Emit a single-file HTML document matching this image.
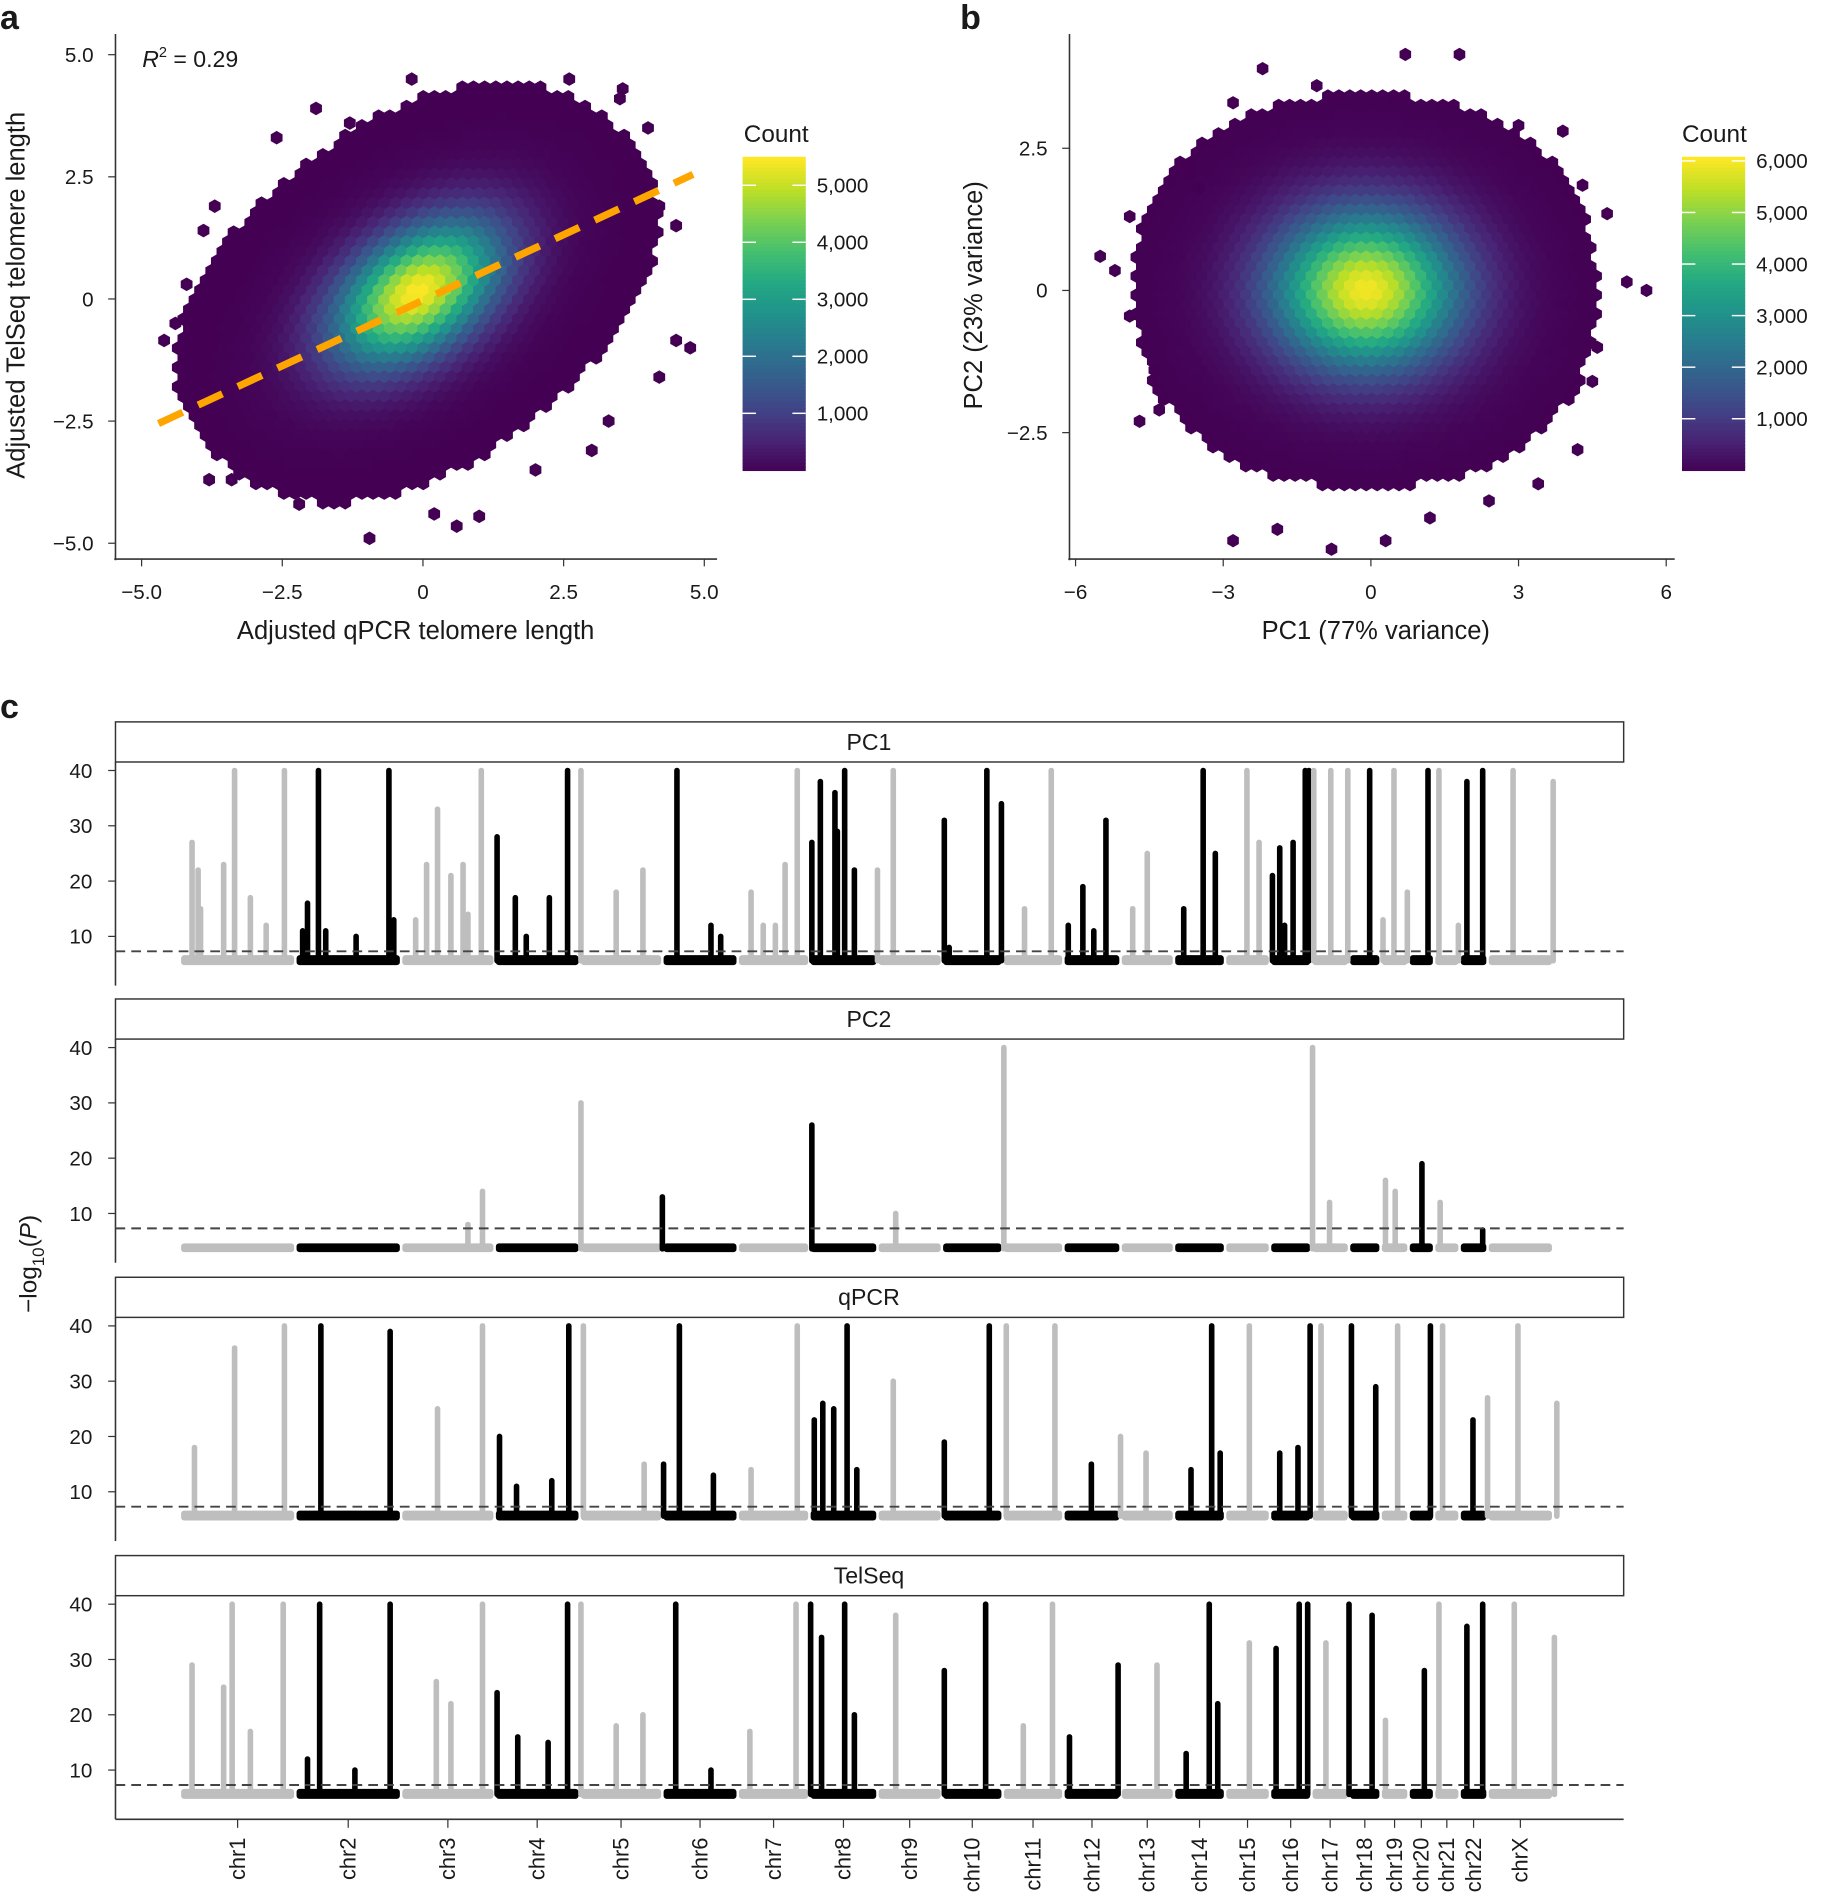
<!DOCTYPE html>
<html><head><meta charset="utf-8"><style>
html,body{margin:0;padding:0;background:#fff}
svg{display:block}
text{font-family:"Liberation Sans",sans-serif;fill:#1a1a1a}
</style></head><body>
<svg id="fig" width="1823" height="1904" viewBox="0 0 1500 1566.7" xmlns="http://www.w3.org/2000/svg">
<g id="pa"></g>
<g id="pb"></g>
<g id="pc"></g>
</svg>
<script>
// ---------- DATA ----------
const viridisStops=["#440154","#482475","#414487","#355f8d","#2a788e","#21918c","#22a884","#44bf70","#7ad151","#bddf26","#fde725"];
// panel a hexbin model (data units)
const aCenter=[-0.1,0.12];
const aSpread=[1.2,0.75];
const aExtent=[4.9,3.3];
const aPeak=5500;
const aOutliers=[[-4.6,-0.85],[-4.4,-0.5],[-4.2,0.3],[-3.5,0.55],[-3.9,1.4],[-3.7,1.9],[-2.6,3.3],[-1.9,3.9],[-1.3,3.6],[-0.2,4.5],[0.7,4.3],[1.5,4.2],[2.6,4.5],[3.55,4.3],[3.5,4.1],[4.0,3.5],[4.2,1.9],[4.5,1.5],[4.75,-1.0],[4.5,-0.85],[4.2,-1.6],[3.3,-2.5],[3.0,-3.1],[2.0,-3.5],[0.2,-4.4],[0.6,-4.65],[-0.95,-4.9],[-3.8,-3.7],[-3.4,-3.7],[-2.2,-4.2],[1.0,-4.45],[-4.0,-2.0]];
const aFit=[-4.7,-2.55,4.8,2.55];
const aXTicks=[-5,-2.5,0,2.5,5];
const aXLabels=["−5.0","−2.5","0","2.5","5.0"];
const aYTicks=[5,2.5,0,-2.5,-5];
const aYLabels=["5.0","2.5","0","−2.5","−5.0"];
const aBarTicks=[1000,2000,3000,4000,5000];
const aBarLabels=["1,000","2,000","3,000","4,000","5,000"];
// panel b hexbin model
const bCenter=[-0.1,0.0];
const bSpread=[1.3,0.95];
const bExtent=[4.7,3.45];
const bPeak=5900;
const bOutliers=[[-5.5,0.6],[-5.2,0.35],[-4.9,1.3],[-4.9,-0.45],[-3.7,2.05],[-3.5,1.8],[-2.8,3.3],[-2.2,3.9],[-1.1,3.6],[0.7,4.15],[1.8,4.15],[3.0,2.9],[3.9,2.8],[4.3,1.85],[4.8,1.35],[5.2,0.15],[5.6,0.0],[4.5,-1.6],[4.2,-2.8],[3.4,-3.4],[2.4,-3.7],[1.2,-4.0],[0.3,-4.4],[-0.8,-4.55],[-1.9,-4.2],[-2.8,-4.4],[-4.7,-2.3],[-4.3,-2.1],[-4.4,-1.4],[4.6,-1.0]];
const bXTicks=[-6,-3,0,3,6];
const bXLabels=["−6","−3","0","3","6"];
const bYTicks=[2.5,0,-2.5];
const bYLabels=["2.5","0","−2.5"];
const bBarTicks=[1000,2000,3000,4000,5000,6000];
const bBarLabels=["1,000","2,000","3,000","4,000","5,000","6,000"];
// panel c manhattan
const chrNames=["chr1","chr2","chr3","chr4","chr5","chr6","chr7","chr8","chr9","chr10","chr11","chr12","chr13","chr14","chr15","chr16","chr17","chr18","chr19","chr20","chr21","chr22","chrX"];
const chrLen=[95,87,77,70,68,62,59,56,53,50,50,47,44,42,37,34,31,26,23,21,21,23,54];
const cYTicks=[10,20,30,40];
const threshold=7.3;
const panelNames=["PC1","PC2","qPCR","TelSeq"];
const baseLow=[4.8,3.0,4.8,4.8];
const baseHigh=[6.6,4.6,6.6,6.6];
const pc1Peaks=[[10,27],[15,22],[17,15],[36,23],[45,40],[58,17],[71,12],[86,40],[101,11],[105,16],[114,40],[120,11],[145,10],[172,40],[176,13],[194,13],[203,23],[212,33],[223,21],[233,23],[237,14],[248,40],[261,28],[276,17],[285,10],[304,17],[319,40],[330,40],[359,18],[381,22],[409,40],[437,12],[445,10],[470,18],[480,12],[490,12],[498,23],[508,40],[520,27],[527,38],[539,36],[541,29],[547,40],[555,22],[574,22],[587,40],[629,31],[633,8],[664,40],[676,34],[695,15],[717,40],[731,12],[743,19],[752,11],[762,31],[784,15],[796,25],[826,15],[842,40],[852,25],[878,40],[888,27],[899,21],[905,26],[909,12],[916,27],[926,40],[929,40],[933,40],[947,40],[961,40],[979,40],[990,13],[999,40],[1010,18],[1027,40],[1036,40],[1052,12],[1059,38],[1072,40],[1097,40],[1130,38]];
const pc2Peaks=[[237,8],[249,14],[330,30],[397,13],[520,26],[589,10],[678,40],[932,40],[946,12],[992,16],[1000,14],[1022,19],[1037,12],[1072,7]];
const qpcrPeaks=[[12,18],[45,36],[86,40],[116,40],[173,39],[212,25],[249,40],[263,20],[277,11],[306,12],[320,40],[332,40],[382,15],[398,15],[411,40],[439,13],[470,14],[508,40],[522,23],[529,26],[538,25],[549,40],[557,14],[587,30],[629,19],[666,40],[680,40],[720,40],[750,15],[774,20],[795,17],[832,14],[849,40],[856,17],[880,40],[905,17],[920,18],[930,40],[939,40],[964,40],[984,29],[1002,40],[1029,40],[1039,40],[1064,23],[1076,27],[1101,40],[1133,26]];
const telPeaks=[[10,29],[36,25],[43,40],[58,17],[85,40],[105,12],[115,40],[144,10],[173,40],[211,26],[223,22],[249,40],[261,24],[278,16],[303,15],[319,40],[330,40],[359,18],[381,20],[408,40],[437,10],[469,17],[507,40],[519,40],[528,34],[547,40],[555,20],[589,38],[629,28],[663,40],[694,18],[718,40],[732,16],[772,29],[804,29],[828,13],[847,40],[854,22],[880,33],[902,32],[921,40],[928,40],[943,33],[962,40],[981,38],[992,19],[1024,28],[1036,40],[1059,36],[1072,40],[1098,40],[1131,34]];
const allPeaks=[pc1Peaks,pc2Peaks,qpcrPeaks,telPeaks];

// ---------- helpers ----------
const NS="http://www.w3.org/2000/svg";
function mk(parent,tag,attrs,txt){const e=document.createElementNS(NS,tag);for(const k in attrs)e.setAttribute(k,attrs[k]);if(txt!==undefined)e.textContent=txt;parent.appendChild(e);return e;}
function hex2rgb(h){return[parseInt(h.slice(1,3),16),parseInt(h.slice(3,5),16),parseInt(h.slice(5,7),16)];}
function viridis(t){t=Math.max(0,Math.min(1,t));const n=viridisStops.length-1;const i=Math.min(n-1,Math.floor(t*n));const f=t*n-i;const a=hex2rgb(viridisStops[i]),b=hex2rgb(viridisStops[i+1]);return "rgb("+a.map((v,k)=>Math.round(v+(b[k]-v)*f)).join(",")+")";}
function hexPath(cx,cy,r){let d="";for(let k=0;k<6;k++){const ang=Math.PI/180*(60*k-90);d+=(k?"L":"M")+(cx+r*Math.cos(ang)).toFixed(2)+","+(cy+r*Math.sin(ang)).toFixed(2);}return d+"Z";}

// ---------- panel a ----------
(function(){
const g=document.getElementById('pa');
const xs=v=>348+v*46.3, ys=v=>246-v*40.2;
mk(g,'text',{x:0,y:24,'font-size':28,'font-weight':'bold',},'a');
const hexG=mk(g,'g',{});
const r=5.3,w=Math.sqrt(3)*r,dy=1.5*r;
const c=Math.SQRT1_2;
for(let row=0;row<70;row++){const py=40+row*dy;for(let col=0;col<60;col++){const px=105+col*w+(row%2?w/2:0);
 const x=(px-348)/46.3,y=(246-py)/40.2;const dx=x-aCenter[0],dyy=y-aCenter[1];
 const u=(dx+dyy)*c,v=(dyy-dx)*c;
 const bnd=Math.pow(Math.abs(u)/aExtent[0],2.2)+Math.pow(Math.abs(v)/aExtent[1],2.2);
 if(bnd>1)continue;
 const q=(u/aSpread[0])**2+(v/aSpread[1])**2;const cnt=aPeak*Math.exp(-q/2);
 mk(hexG,'path',{d:hexPath(px,py,r+0.35),fill:viridis(cnt/5500)});}}
aOutliers.forEach(p=>{const o=mk(hexG,'path',{d:hexPath(xs(p[0]),ys(p[1]),r+0.3),fill:viridis(0)});

});
mk(g,'line',{x1:xs(aFit[0]),y1:ys(aFit[1]),x2:xs(aFit[2]),y2:ys(aFit[3]),stroke:'#ffa500','stroke-width':6,'stroke-dasharray':'22 14',});
mk(g,'line',{x1:95,y1:28,x2:95,y2:461,stroke:'#333','stroke-width':1.3,});
mk(g,'line',{x1:94,y1:460,x2:590,y2:460,stroke:'#333','stroke-width':1.3,});
aXTicks.forEach((t,i)=>{mk(g,'line',{x1:xs(t),y1:460,x2:xs(t),y2:466,stroke:'#333'});const e=mk(g,'text',{x:xs(t),y:493,'font-size':17,'text-anchor':'middle'},aXLabels[i]);

});
aYTicks.forEach((t,i)=>{mk(g,'line',{x1:89,y1:ys(t),x2:95,y2:ys(t),stroke:'#333'});const e=mk(g,'text',{x:77,y:ys(t)+6,'font-size':17,'text-anchor':'end'},aYLabels[i]);

});
mk(g,'text',{x:342,y:526,'font-size':21,'text-anchor':'middle',},'Adjusted qPCR telomere length');
mk(g,'text',{x:20,y:243,'font-size':21,'text-anchor':'middle',transform:'rotate(-90 20 243)',},'Adjusted TelSeq telomere length');
const r2=mk(g,'text',{x:117,y:55,'font-size':19,});
mk(r2,'tspan',{'font-style':'italic'},'R');mk(r2,'tspan',{dy:-8,'font-size':12},'2');mk(r2,'tspan',{dy:8},' = 0.29');
mk(g,'text',{x:612,y:117,'font-size':20,},'Count');
const cb=mk(g,'g',{});
const top=129,bot=387,maxV=5500;
for(let i=0;i<86;i++){const y0=top+(bot-top)*i/86;mk(cb,'rect',{x:611,y:y0,width:52,height:(bot-top)/86+0.6,fill:viridis(1-i/86)});}
aBarTicks.forEach((t,i)=>{const y=bot-(bot-top)*t/maxV;mk(cb,'line',{x1:611,y1:y,x2:622,y2:y,stroke:'#fff','stroke-width':1.2});mk(cb,'line',{x1:652,y1:y,x2:663,y2:y,stroke:'#fff','stroke-width':1.2});const e=mk(g,'text',{x:672,y:y+6,'font-size':17},aBarLabels[i]);

});
})();

// ---------- panel b ----------
(function(){
const g=document.getElementById('pb');
const xs=v=>1128+v*40.5, ys=v=>239-v*46.8;
mk(g,'text',{x:790,y:24,'font-size':28,'font-weight':'bold',},'b');
const hexG=mk(g,'g',{});
const r=5.2,w=Math.sqrt(3)*r,dy=1.5*r;
for(let row=0;row<70;row++){const py=40+row*dy;for(let col=0;col<62;col++){const px=890+col*w+(row%2?w/2:0);
 const x=(px-1128)/40.5,y=(239-py)/46.8;const dx=x-bCenter[0],dyy=y-bCenter[1];
 const ay=Math.abs(dyy)/bExtent[1],ax=Math.abs(dx)/bExtent[0];
 if(ay>1||Math.pow(ax,2.3)+Math.pow(ay,2.3)>1)continue;
 const q=(dx/bSpread[0])**2+(dyy/bSpread[1])**2;const cnt=bPeak*Math.exp(-q/2);
 mk(hexG,'path',{d:hexPath(px,py,r+0.35),fill:viridis(cnt/6000)});}}
bOutliers.forEach(p=>{const o=mk(hexG,'path',{d:hexPath(xs(p[0]),ys(p[1]),r+0.3),fill:viridis(0)});

});
mk(g,'line',{x1:880,y1:28,x2:880,y2:461,stroke:'#333','stroke-width':1.3,});
mk(g,'line',{x1:879,y1:460,x2:1378,y2:460,stroke:'#333','stroke-width':1.3,});
bXTicks.forEach((t,i)=>{mk(g,'line',{x1:xs(t),y1:460,x2:xs(t),y2:466,stroke:'#333'});const e=mk(g,'text',{x:xs(t),y:493,'font-size':17,'text-anchor':'middle'},bXLabels[i]);

});
bYTicks.forEach((t,i)=>{mk(g,'line',{x1:874,y1:ys(t),x2:880,y2:ys(t),stroke:'#333'});const e=mk(g,'text',{x:862,y:ys(t)+6,'font-size':17,'text-anchor':'end'},bYLabels[i]);

});
mk(g,'text',{x:1132,y:526,'font-size':21,'text-anchor':'middle',},'PC1 (77% variance)');
mk(g,'text',{x:808,y:243,'font-size':21,'text-anchor':'middle',transform:'rotate(-90 808 243)',},'PC2 (23% variance)');
mk(g,'text',{x:1384,y:117,'font-size':20,},'Count');
const cb=mk(g,'g',{});
const top=129,bot=387,maxV=6080;
for(let i=0;i<86;i++){const y0=top+(bot-top)*i/86;mk(cb,'rect',{x:1384,y:y0,width:52,height:(bot-top)/86+0.6,fill:viridis(1-i/86)});}
bBarTicks.forEach((t,i)=>{const y=bot-(bot-top)*t/maxV;mk(cb,'line',{x1:1384,y1:y,x2:1395,y2:y,stroke:'#fff','stroke-width':1.2});mk(cb,'line',{x1:1425,y1:y,x2:1436,y2:y,stroke:'#fff','stroke-width':1.2});const e=mk(g,'text',{x:1445,y:y+6,'font-size':17},bBarLabels[i]);

});
})();

// ---------- panel c ----------
(function(){
const g=document.getElementById('pc');
mk(g,'text',{x:0,y:591,'font-size':28,'font-weight':'bold',},'c');
const X0=148; const xs=u=>X0+u;
const starts=[];let acc=0;chrLen.forEach(l=>{starts.push(acc);acc+=l;});
const chrOf=u=>{for(let i=chrLen.length-1;i>=0;i--)if(u>=starts[i])return i;return 0;};
const col=i=>i%2===0?'#bebebe':'#000';
const stripTops=[594,822,1051,1280];
panelNames.forEach((name,p)=>{
 const s=stripTops[p];const ys=v=>s+222-v*4.55;
 const pg=mk(g,'g',{});
 
 
 const strip=mk(pg,'rect',{x:95,y:s,width:1241,height:33,fill:'#fff',stroke:'#333','stroke-width':1.2});
 
 
 const st=mk(pg,'text',{x:715,y:s+23,'font-size':19,'text-anchor':'middle'},name);
 
 
 mk(pg,'line',{x1:95,y1:s+33,x2:95,y2:s+217,stroke:'#333','stroke-width':1.3});
 cYTicks.forEach(t=>{mk(pg,'line',{x1:89,y1:ys(t),x2:95,y2:ys(t),stroke:'#333'});const e=mk(pg,'text',{x:76,y:ys(t)+6,'font-size':17,'text-anchor':'end'},String(t));
 
 });
 chrLen.forEach((l,i)=>{const b=mk(pg,'rect',{x:xs(starts[i])+1,y:ys(baseHigh[p]),width:l-2,height:ys(baseLow[p])-ys(baseHigh[p]),rx:2.5,fill:col(i)});
 
 });
 allPeaks[p].forEach(pk=>{const ci=chrOf(pk[0]);const ln=mk(pg,'line',{x1:xs(pk[0]),y1:ys(baseHigh[p]-1),x2:xs(pk[0]),y2:ys(pk[1]),stroke:col(ci),'stroke-width':4.6,'stroke-linecap':'round'});
 
 });
 const th=mk(pg,'line',{x1:95,y1:ys(threshold),x2:1336,y2:ys(threshold),stroke:'#444','stroke-width':1.6,'stroke-dasharray':'8 5'});
 
 
});
mk(g,'line',{x1:95,y1:1497,x2:1336,y2:1497,stroke:'#333','stroke-width':1.3,});
chrNames.forEach((n,i)=>{const cx=xs(starts[i]+chrLen[i]/2);mk(g,'line',{x1:cx,y1:1497,x2:cx,y2:1504,stroke:'#333'});
 const t=mk(g,'text',{x:cx+6,y:1512,'font-size':18,'text-anchor':'end',transform:'rotate(-90 '+(cx+6)+' 1512)'},n);
 
 });
const yt=mk(g,'text',{x:30,y:1040,'font-size':20,'text-anchor':'middle',transform:'rotate(-90 30 1040)',});
mk(yt,'tspan',{},'−log');mk(yt,'tspan',{dy:6,'font-size':14},'10');mk(yt,'tspan',{dy:-6},'(');mk(yt,'tspan',{'font-style':'italic'},'P');mk(yt,'tspan',{},')');
})();
</script>
</body></html>
